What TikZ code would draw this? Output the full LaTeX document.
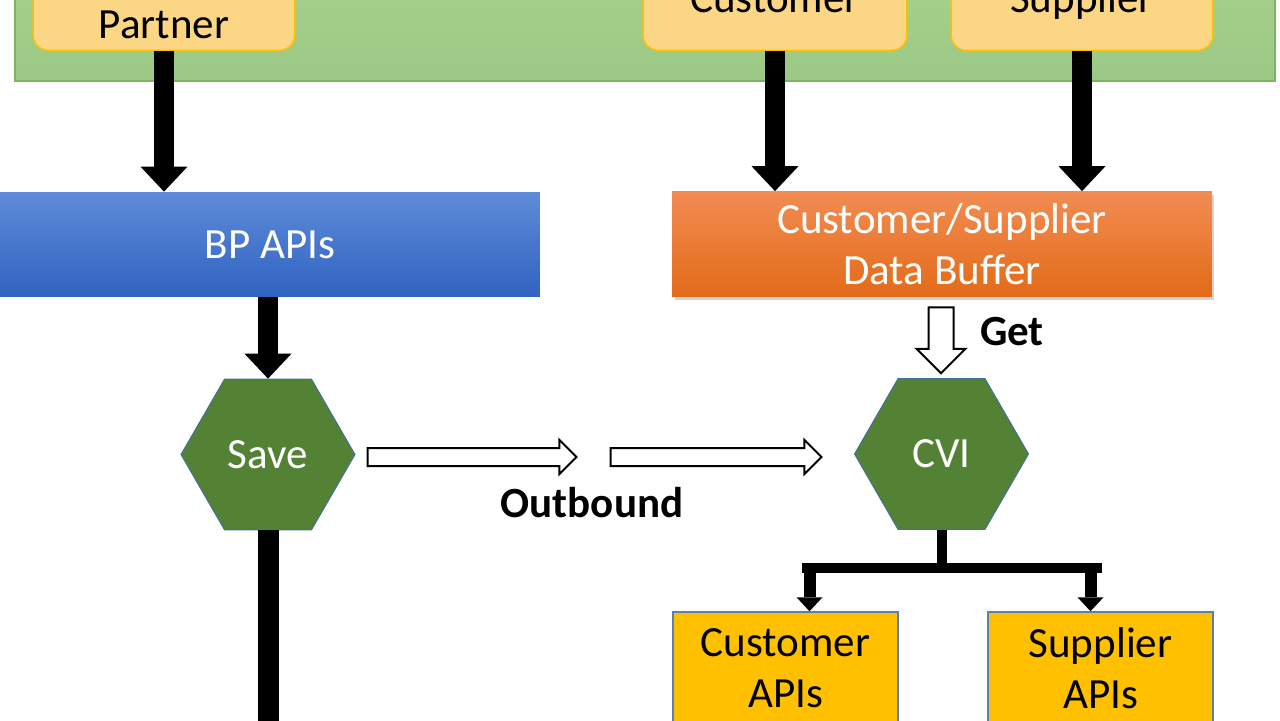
\documentclass[tikz,border=0pt]{standalone}
\usepackage{fontspec}
\setmainfont{Carlito}
\usetikzlibrary{positioning,calc,arrows.meta,shapes.geometric,shapes.arrows,shadows}
\definecolor{bgtop}{HTML}{A9D18E}
\definecolor{bgbot}{HTML}{9BC985}
\definecolor{bgedge}{HTML}{7DB45E}
\definecolor{boxfill}{HTML}{FBD685}
\definecolor{boxedge}{HTML}{FFC000}
\definecolor{bptop}{HTML}{5E8CD8}
\definecolor{bpbot}{HTML}{3062C2}
\definecolor{buftop}{HTML}{F28C52}
\definecolor{bufmid}{HTML}{F47B25}
\definecolor{bufbot}{HTML}{E26B18}
\definecolor{hexgreen}{HTML}{548235}
\definecolor{hexedge}{HTML}{41719C}
\definecolor{apiyel}{HTML}{FFC000}
\definecolor{apiedge}{HTML}{5B80B0}

\begin{document}
\begin{tikzpicture}[x=0.02cm, y=-0.02cm,
  lbl/.style={font=\fontsize{24.5}{29}\selectfont, inner sep=0pt},
  boldlbl/.style={font=\fontsize{24.5}{29}\selectfont\bfseries, inner sep=0pt, anchor=base},
  topbox/.style={draw=boxedge, line width=0.03cm, fill=boxfill, rounded corners=0.3cm,
    minimum width=5.24cm, minimum height=2.4cm, anchor=south},
  band/.style={minimum width=10.8cm, minimum height=2.1cm, text=white, align=center,
    font=\fontsize{24.5}{29}\selectfont},
  hexnode/.style={regular polygon, regular polygon sides=6, minimum size=3.48cm,
    fill=hexgreen, draw=hexedge, line width=0.02cm, text=white, inner sep=0pt,
    font=\fontsize{24.5}{29}\selectfont},
  apibox/.style={fill=apiyel, draw=apiedge, line width=0.03cm, minimum width=4.5cm,
    minimum height=2.24cm, align=center, font=\fontsize{24.5}{29}\selectfont},
  hollow/.style={single arrow, draw=black, line width=0.04cm, fill=white, inner xsep=0pt,
    inner ysep=0.16cm, single arrow head extend=0.16cm},
  bigarr/.style={line width=0.4cm, -{Triangle[width=0.94cm, length=0.5cm, line width=0pt]}},
  smallarr/.style={line width=0.24cm, -{Triangle[width=0.52cm, length=0.28cm, line width=0pt]}}]

  \path[use as bounding box] (0,0) rectangle (1280,720);
  \clip (0,0) rectangle (1280,720);

  % business partner layer
  \draw[draw=bgedge, line width=0.04cm, top color=bgtop, bottom color=bgbot] (15,-40) rectangle (1275,81);
  \node[topbox] (partner) at (164,51) {};
  \node[topbox, minimum width=5.28cm] (custtop) at (775,51) {};
  \node[topbox] (supptop) at (1082,51) {};
  \node[lbl, anchor=base] (partnerlbl) at (164,38) {Partner};
  \node[lbl, anchor=base] (custlbl) at (775,12) {Customer};
  \node[lbl, anchor=base] (supplbl) at (1082,12) {Supplier};

  % APIs and buffer
  \node[band, top color=bptop, bottom color=bpbot] (bpapi) at (270,244.5) {BP APIs};
  \node[band, top color=buftop, middle color=bufmid, bottom color=bufbot,
    drop shadow={shadow xshift=0.05cm, shadow yshift=-0.07cm, opacity=0.35}]
    (buffer) at (942,244) {Customer/Supplier\\Data Buffer};

  \draw[bigarr] (partner.south) -- (partner.south |- bpapi.north);
  \draw[bigarr] (custtop.south) -- (custtop.south |- buffer.north);
  \draw[bigarr] (supptop.south) -- (supptop.south |- buffer.north);

  % save and CVI
  \node[hexnode] (save) at (268,454.5) {Save};
  \node[hexnode] (cvi) at (941.5,454) {CVI};
  \draw[bigarr] (save.north |- bpapi.south) -- (save.north);

  \coordinate (saveout) at ([yshift=-5cm]save.south);
  \draw[line width=0.42cm] (save.south) -- (saveout);

  % outbound and get
  \node[hollow, minimum height=4.18cm] (outa) at (467.5,457) {};
  \node[hollow, minimum height=4.22cm] (outb) at (711.5,457) {};
  \node[boldlbl] (outlbl) at (592,517) {Outbound};
  \node[hollow, minimum height=1.32cm, inner ysep=0.23cm, single arrow head extend=0.24cm,
    rotate=-90] (getarr) at (941,334) {};
  \node[boldlbl] (getlbl) at (1012,345) {Get};

  % customer and supplier APIs
  \node[apibox] (custapi) at (785.5,668) {Customer\\APIs};
  \node[apibox] (suppapi) at (1100.5,668) {Supplier\\APIs};

  \coordinate (fork) at ([yshift=-0.76cm]cvi.south);
  \coordinate (ltap) at ($(custapi.north)+(24,0)$);
  \coordinate (rtap) at ($(suppapi.north)+(-10,0)$);
  \draw[line width=0.2cm] (cvi.south) -- (fork);
  \draw[line width=0.2cm, shorten <=-0.16cm, shorten >=-0.22cm] (ltap |- fork) -- (rtap |- fork);
  \draw[smallarr] (ltap |- fork) -- (ltap);
  \draw[smallarr] (rtap |- fork) -- (rtap);
\end{tikzpicture}
\end{document}
